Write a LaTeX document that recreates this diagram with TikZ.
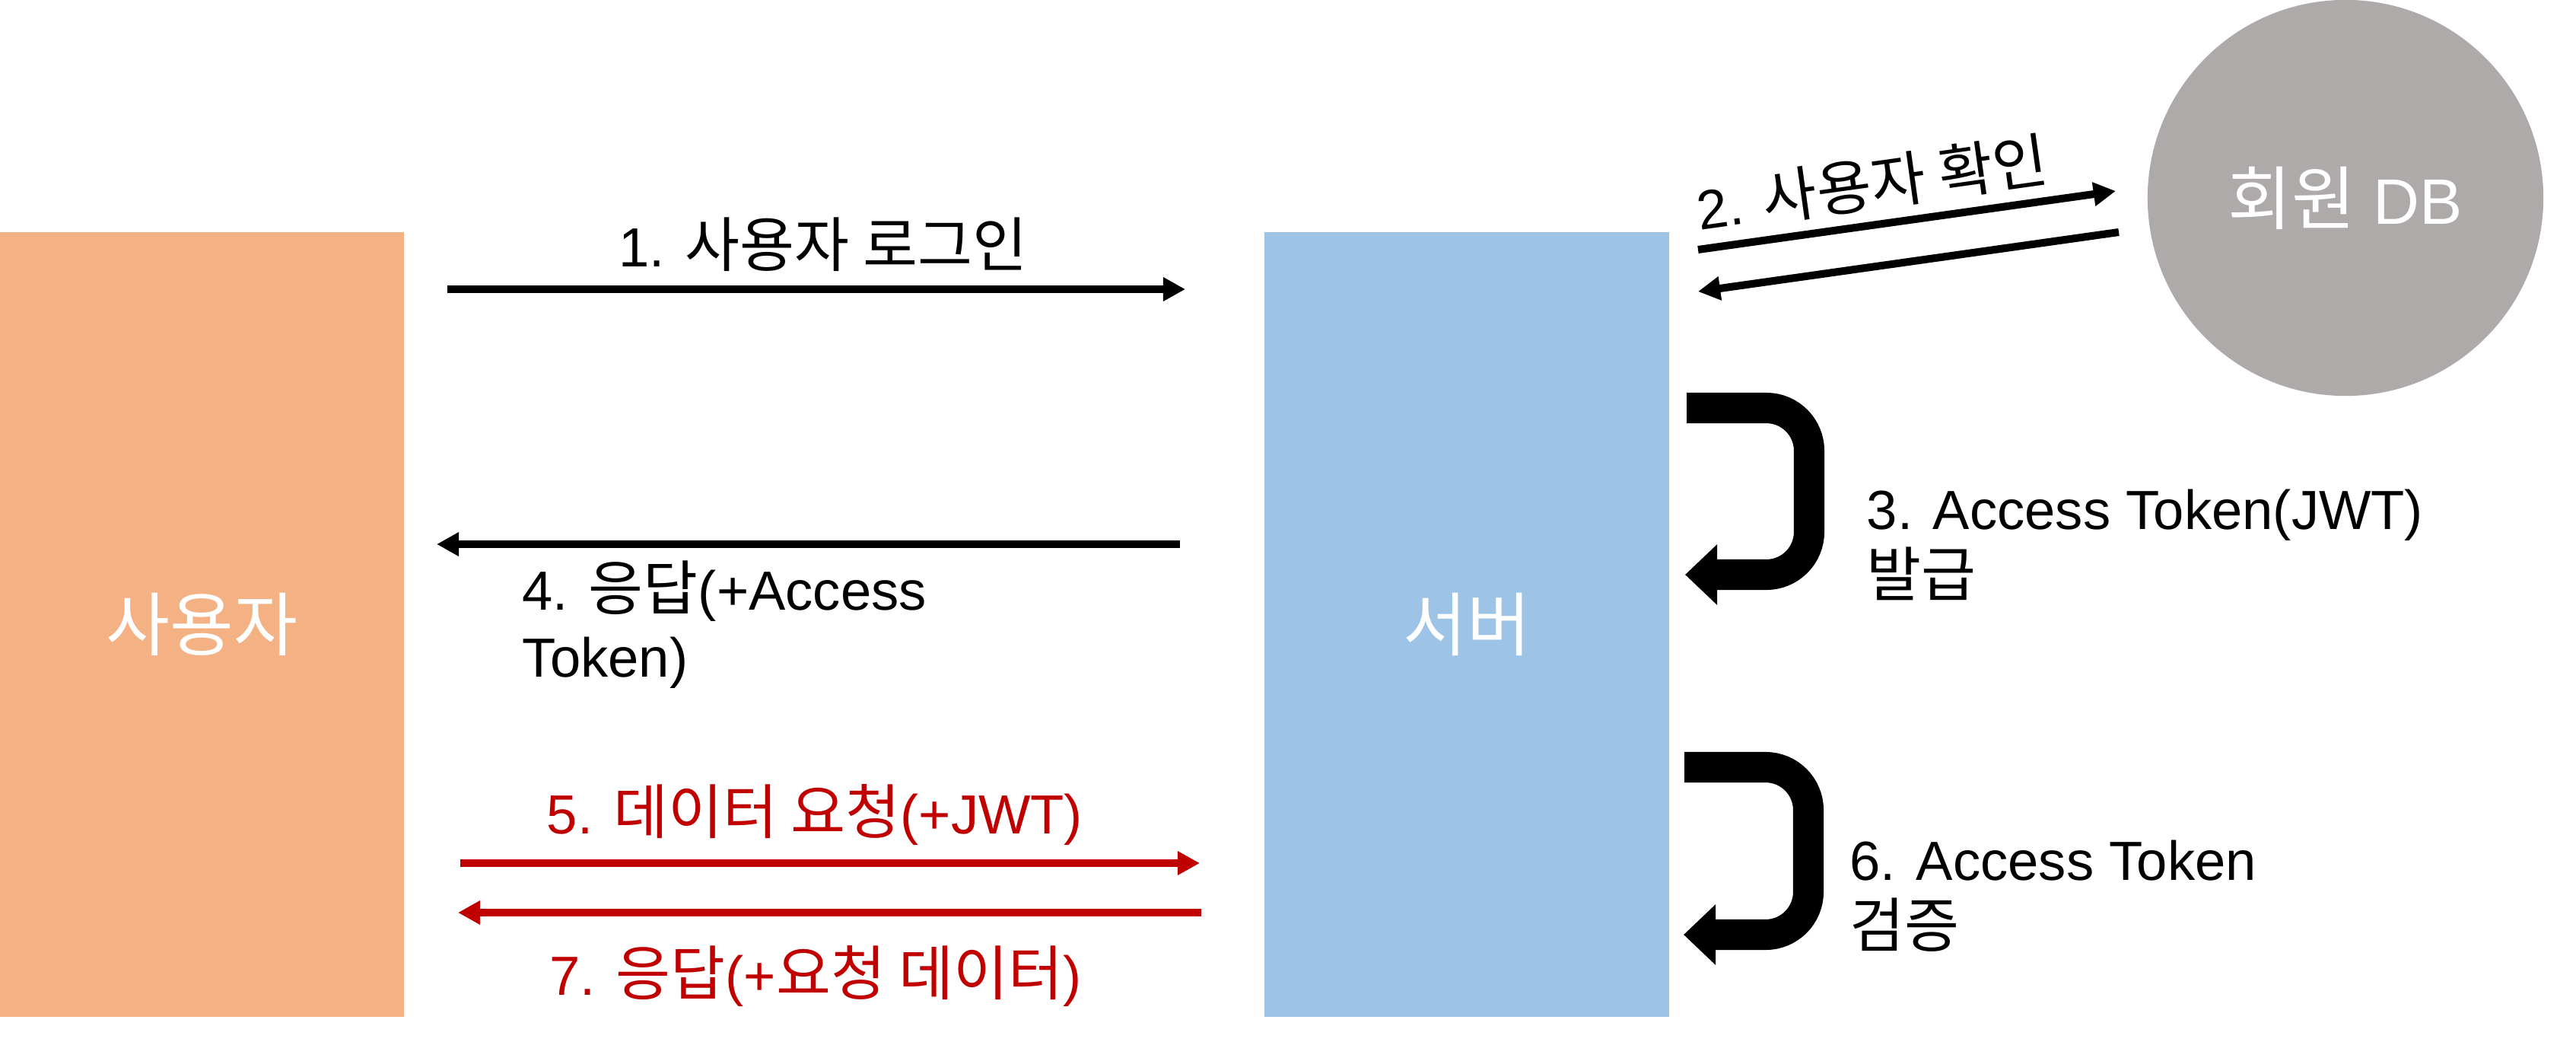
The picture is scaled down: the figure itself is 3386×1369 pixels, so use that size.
\documentclass[tikz,border=0pt]{standalone}
\usepackage{fontspec}
\setmainfont{Liberation Sans}
\newfontfamily\kr[Scale=1.08]{Noto Sans CJK KR}
\usetikzlibrary{arrows.meta}
\definecolor{userfill}{HTML}{F4B183}
\definecolor{serverfill}{HTML}{9DC3E6}
\definecolor{dbfill}{HTML}{AEAAAA}
\definecolor{reqred}{HTML}{C00000}
\begin{document}
\begin{tikzpicture}[x=0.01cm,y=-0.01cm,
		box/.style={rectangle,inner sep=0,minimum height=10.31cm,text=white,font=\fontsize{24pt}{28pt}\selectfont},
		msg/.style={line width=2.85pt,-{Triangle[width=8.5pt,length=8.3pt]}},
		turn/.style={line width=11.4pt,rounded corners=16pt,-{Triangle[width=22pt,length=12pt]}},
		lbl/.style={inner sep=0,font=\fontsize{20.6pt}{25pt}\selectfont,align=left}]
			\useasboundingbox (0,0) rectangle (3386,1369);
			\node[box,fill=userfill,minimum width=5.31cm] (user) at (265.5,820.5) {\kr 사용자};
			\node[box,fill=serverfill,minimum width=5.32cm] (server) at (1928,820.5) {\kr 서버};
			\node[circle,fill=dbfill,inner sep=0,minimum size=5.2cm,text=white,font=\fontsize{24pt}{28pt}\selectfont] (db) at (3083,260) {{\kr 회원} DB};
			\coordinate (loginS) at (588,380);
			\coordinate (loginE) at (1558,380);
			\coordinate (tokenS) at (1551,715);
			\coordinate (tokenE) at (574,715);
			\coordinate (reqS) at (605,1134);
			\coordinate (reqE) at (1577,1134);
			\coordinate (resS) at (1579,1199);
			\coordinate (resE) at (602,1199);
			\coordinate (checkS) at (2232,328);
			\coordinate (checkE) at (2781,251);
			\coordinate (backS) at (2785,305);
			\coordinate (backE) at (2232,383);
			\draw[msg] (loginS) -- (loginE);
			\draw[msg] (tokenS) -- (tokenE);
			\draw[msg,reqred] (reqS) -- (reqE);
			\draw[msg,reqred] (resS) -- (resE);
			\draw[msg] (checkS) -- node[lbl,sloped,above,pos=0.43,inner sep=4pt] (t2) {2. {\kr 사용자 확인}} (checkE);
			\draw[msg] (backS) -- (backE);
			\draw[turn] (2217,536) -- (2378,536) -- (2378,755) -- (2215,755);
			\draw[turn] (2214,1008) -- (2377,1008) -- (2377,1228) -- (2213,1228);
			\node[lbl,anchor=base] (t1) at (1082,350) {1. {\kr 사용자 로그인}};
			\node[lbl,anchor=base west] (t4) at (686,889) {4. {\kr 응답}(+Access\\Token)};
			\node[lbl,anchor=base,text=reqred] (t5) at (1071,1095) {5. {\kr 데이터 요청}(+JWT)};
			\node[lbl,anchor=base,text=reqred] (t7) at (1072,1307) {7. {\kr 응답}(+{\kr 요청 데이터})};
			\node[lbl,anchor=base west] (t3) at (2453,783) {3. Access Token(JWT)\\{\kr 발급}};
			\node[lbl,anchor=base west] (t6) at (2431,1244) {6. Access Token\\{\kr 검증}};
		\end{tikzpicture}
\end{document}
